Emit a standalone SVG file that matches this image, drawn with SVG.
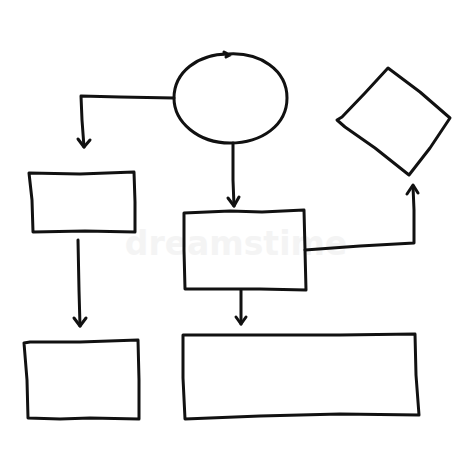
<svg xmlns="http://www.w3.org/2000/svg" width="474" height="474" viewBox="0 0 474 474">
<style>
.s{fill:none;stroke:#111;stroke-width:3;stroke-linecap:round;stroke-linejoin:round}
.wm{font-family:"DejaVu Sans",sans-serif;font-weight:bold;font-size:33px;fill:#f4f4f4}
</style>
<rect width="474" height="474" fill="#fff"/>
<text class="wm" x="236" y="255" text-anchor="middle">dreamstime</text>
<g id="connectors">
<path class="s" d="M174,98 L120,97 L81,96 L82,120 L84,147"/>
<path class="s" d="M78,139 L84,147 L90,140"/>
<path class="s" d="M78,240 L79,290 L80,326"/>
<path class="s" d="M74,318 L80,326 L86,318"/>
<path class="s" d="M233,143 L233,180 L234,206"/>
<path class="s" d="M228,198 L234,206 L239,197"/>
<path class="s" d="M241,290 L241,310 L241,324"/>
<path class="s" d="M236,317 L241,324 L246,317"/>
<path class="s" d="M305,250 L360,246 L414,243 L414,210 L413,186"/>
<path class="s" d="M407,194 L413,185 L418,193"/>
</g>
<g id="ellipse">
<path class="s" d="M228,54 C260,52 287,70 287,98 C287,125 262,143 230,143 C198,143 174,122 174,98 C174,72 198,54 228,54 Z M224,52 L230,55 L226,57"/>
</g>
<g id="diamond">
<path class="s" d="M388,68 L420,92 L450,118 L430,148 L409,175 L375,148 L345,127 L337,120 L342,117 L365,93 Z"/>
</g>
<g id="box1">
<path class="s" d="M29,173 L80,174 L134,172 L135,202 L135,232 L85,231 L33,232 L32,200 Z"/>
</g>
<g id="box2">
<path class="s" d="M184,213 L230,211 L262,212 L304,210 L305,250 L306,290 L260,289 L226,289 L185,289 L184,250 Z"/>
</g>
<g id="box3">
<path class="s" d="M24,343 L30,342 L80,342 L138,340 L139,380 L139,419 L90,418 L60,419 L28,418 L27,380 Z"/>
</g>
<g id="box4">
<path class="s" d="M183,335 L260,335 L340,335 L415,334 L416,375 L419,415 L340,414 L260,416 L185,419 L183,378 Z"/>
</g>
</svg>
